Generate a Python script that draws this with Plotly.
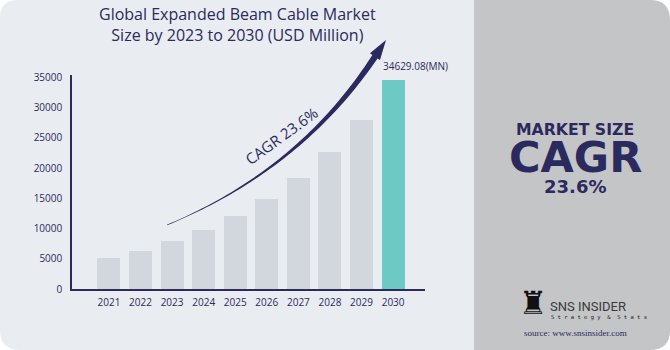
import numpy as np
import plotly.graph_objects as go

# ---- data ----
years = ["2021", "2022", "2023", "2024", "2025", "2026", "2027", "2028", "2029", "2030"]
values = [5150, 6358, 7860, 9710, 12000, 14840, 18340, 22670, 28020, 34629.08]
y_ticks = [0, 5000, 10000, 15000, 20000, 25000, 30000, 35000]
label_2022 = "6358"
label_2030 = "34629.08(MN)"
title_text = "Global Expanded Beam Cable Market<br>Size by 2023 to 2030 (USD Million)"
cagr_text = "CAGR 23.6%"

W, H = 670, 350
NAVY = "#2B2A5E"
BAR_GRAY = "#D1D7DC"
TEAL = "#6CC9C4"
bar_colors = [BAR_GRAY] * (len(years) - 1) + [TEAL]


def px(x):
    return x / W


def py(y):
    return 1 - y / H


def pt(x, y):
    return f"{px(x):.5f},{py(y):.5f}"


def rrect(x0, y0, x1, y1, rtl, rtr, rbr, rbl):
    return (f"M {pt(x0 + rtl, y0)} L {pt(x1 - rtr, y0)} Q {pt(x1, y0)} {pt(x1, y0 + rtr)} "
            f"L {pt(x1, y1 - rbr)} Q {pt(x1, y1)} {pt(x1 - rbr, y1)} "
            f"L {pt(x0 + rbl, y1)} Q {pt(x0, y1)} {pt(x0, y1 - rbl)} "
            f"L {pt(x0, y0 + rtl)} Q {pt(x0, y0)} {pt(x0 + rtl, y0)} Z")


fig = go.Figure(go.Bar(x=years, y=values, marker_color=bar_colors, width=0.73,
                       marker_line_width=0, hoverinfo="skip"))

shapes = []
# left light panel
shapes.append(dict(type="path", xref="paper", yref="paper", layer="below",
                   path=rrect(0, 0, 474, 350, 18, 0, 0, 20),
                   fillcolor="#E9ECF1", line=dict(width=0)))
# right gray panel
shapes.append(dict(type="path", xref="paper", yref="paper", layer="below",
                   path=rrect(474, 0, 670, 350, 0, 20, 20, 0),
                   fillcolor="#C4C5C7", line=dict(width=0)))

# curved growth arrow (decoration)
P0 = np.array([167.0, 225.0])
P1 = np.array([300.0, 170.0])
TIP = np.array([386.0, 40.0])
d_end = (TIP - P1) / np.linalg.norm(TIP - P1)
head_len, head_half = 20.0, 6.0
base = TIP - head_len * d_end
ts = np.linspace(0, 1, 60)
up, lo = [], []
for t in ts:
    B = (1 - t) ** 2 * P0 + 2 * (1 - t) * t * P1 + t ** 2 * base
    D = 2 * (1 - t) * (P1 - P0) + 2 * t * (base - P1)
    D = D / np.linalg.norm(D)
    n = np.array([-D[1], D[0]])
    w = 0.3 + 2.8 * t ** 1.4
    up.append(B + w * n)
    lo.append(B - w * n)
n_end = np.array([-d_end[1], d_end[0]])
poly = up + [base + head_half * n_end, TIP, base - head_half * n_end] + lo[::-1]
arrow_path = "M " + " L ".join(pt(p[0], p[1]) for p in poly) + " Z"
shapes.append(dict(type="path", xref="paper", yref="paper", path=arrow_path,
                   fillcolor=NAVY, line=dict(width=0)))


def ptext(text, x, y, family, size, color=NAVY, xanchor="center", angle=0):
    return dict(text=text, x=px(x), y=py(y), xref="paper", yref="paper",
                showarrow=False, xanchor=xanchor, yanchor="middle", textangle=angle,
                font=dict(family=family, size=size, color=color))


annotations = [
    ptext(title_text, 237, 24.5, "Open Sans", 16),
    ptext(cagr_text, 281, 136, "Open Sans", 15, angle=-36),
    dict(text=label_2022, x=years[1], y=values[1], xref="x", yref="y",
         showarrow=False, xanchor="center", yanchor="bottom", yshift=5,
         font=dict(family="Open Sans", size=10, color=NAVY)),
    dict(text=label_2030, x=9, y=values[9], xref="x", yref="y",
         showarrow=False, xanchor="left", yanchor="bottom", xshift=-12, yshift=5,
         font=dict(family="Open Sans", size=10, color=NAVY)),
    ptext("<b>MARKET SIZE</b>", 575, 129, "DejaVu Sans", 15.7),
    ptext("<b>CAGR</b>", 575, 157, "DejaVu Sans", 43),
    ptext("<b>23.6%</b>", 575, 186, "DejaVu Sans", 18),
    ptext("♜", 533, 303, "DejaVu Sans", 32, color="#111111"),
    ptext("SNS INSIDER", 548, 306, "Roboto", 13, color="#3A3A3A", xanchor="left"),
    ptext("S t r a t e g y  &  S t a t s", 549, 317, "DejaVu Sans Mono", 5.5,
          color="#222222", xanchor="left"),
    ptext("source: www.snsinsider.com", 575, 333, "Liberation Serif", 9),
]

fig.update_layout(
    width=W, height=H,
    margin=dict(l=0, r=0, t=0, b=0, autoexpand=False),
    paper_bgcolor="white",
    plot_bgcolor="rgba(0,0,0,0)",
    shapes=shapes,
    annotations=annotations,
    showlegend=False,
    bargap=0,
    xaxis=dict(type="category", domain=[px(72), px(425)], range=[-1.17, 10.01],
               showline=True, linecolor=NAVY, linewidth=1.5, showgrid=False,
               zeroline=False, ticks="", ticklabelstandoff=3, automargin=False,
               tickfont=dict(family="Open Sans", size=10, color=NAVY), fixedrange=True),
    yaxis=dict(domain=[py(289), py(75)], range=[0, 35400], tickvals=y_ticks,
               tickformat="d", automargin=False,
               showline=True, linecolor=NAVY, linewidth=1.5, showgrid=False,
               zeroline=False, ticks="", ticklabelstandoff=6,
               tickfont=dict(family="Open Sans", size=10, color=NAVY), fixedrange=True),
)

fig.write_html("out.html")
